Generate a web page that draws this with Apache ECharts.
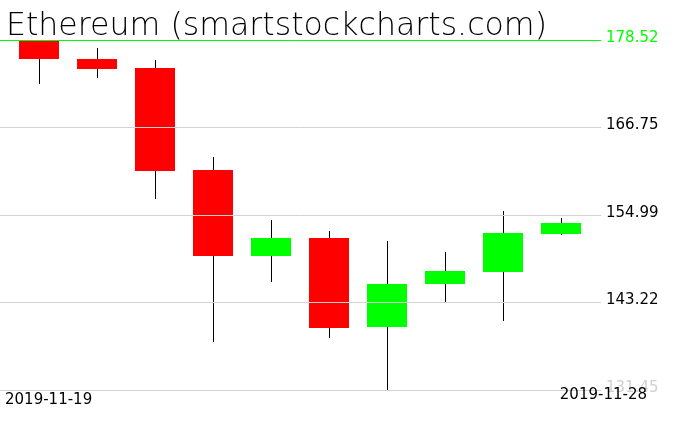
<!DOCTYPE html>
<html>
<head>
<meta charset="utf-8">
<script src="https://cdn.jsdelivr.net/npm/echarts@6/dist/echarts.min.js"></script>
<style>
html,body{margin:0;padding:0;background:#fff;}
#c{width:676px;height:431px;}
</style>
</head>
<body>
<div id="c"></div>
<script>
var titleText = 'Ethereum (smartstockcharts.com)';
var categories = ['2019-11-19','2019-11-20','2019-11-21','2019-11-22','2019-11-23','2019-11-24','2019-11-25','2019-11-26','2019-11-27','2019-11-28'];
var openVals  = [178.52, 175.90, 174.75, 161.04, 149.47, 151.89, 139.92, 145.75, 147.32, 152.43];
var closeVals = [175.90, 174.62, 160.94, 149.47, 151.89, 139.83, 145.70, 147.45, 152.56, 153.91];
var lowVals   = [172.56, 173.45, 157.20, 137.90, 146.01, 138.48, 131.45, 143.28, 140.73, 152.30];
var highVals  = [178.52, 177.40, 175.83, 162.78, 154.31, 152.83, 151.49, 149.98, 155.52, 154.58];
var yTicks = [131.45, 143.22, 154.99, 166.75, 178.52];
var yMin = 131.45, yMax = 178.52;

var candleData = categories.map(function(c, i){
  return [i, openVals[i], closeVals[i], lowVals[i], highVals[i]];
});

var chart = echarts.init(document.getElementById('c'), null, {renderer:'canvas'});

var lineData = yTicks.map(function(v, i){
  var isTop = i === yTicks.length - 1;
  var isBottom = i === 0;
  return {
    yAxis: v,
    name: v.toFixed(2),
    lineStyle: {color: isTop ? '#00ff00' : '#d3d3d3', width: 1, type: 'solid'},
    label: {color: isTop ? '#00ff00' : (isBottom ? '#d0d0d0' : '#000000')}
  };
});

chart.setOption({
  backgroundColor: '#ffffff',
  animation: false,
  grid: [
    {left: 10, width: 580, top: 40, height: 350},
    {left: 0, width: 601, top: 40, height: 350}
  ],
  xAxis: [
    {type: 'category', gridIndex: 0, data: categories, show: false, boundaryGap: true},
    {type: 'value', gridIndex: 1, min: 0, max: 1, show: false}
  ],
  yAxis: [
    {type: 'value', gridIndex: 0, min: yMin, max: yMax, show: false},
    {type: 'value', gridIndex: 1, min: yMin, max: yMax, show: false}
  ],
  graphic: [
    {type: 'text', left: 6, top: 11, z: 10,
     style: {text: titleText, font: '200 31.6px "DejaVu Sans"', fill: '#000'}},
    {type: 'text', x: 5, y: 400, z: 10,
     style: {text: categories[0], font: '15px "DejaVu Sans"', fill: '#000', verticalAlign: 'middle', align: 'left'}},
    {type: 'text', x: 647, y: 395, z: 10,
     style: {text: categories[categories.length - 1], font: '15px "DejaVu Sans"', fill: '#000', verticalAlign: 'middle', align: 'right'}}
  ],
  series: [
    {
      type: 'custom',
      xAxisIndex: 0, yAxisIndex: 0,
      z: 2,
      data: candleData,
      encode: {x: 0, y: [1, 2, 3, 4]},
      renderItem: function(params, api){
        var x = api.value(0), o = api.value(1), c = api.value(2), l = api.value(3), h = api.value(4);
        var pO = api.coord([x, o]), pC = api.coord([x, c]);
        var pL = api.coord([x, l]), pH = api.coord([x, h]);
        var band = api.size([1, 0])[0];
        var w = Math.round(band * 0.69);
        var cx = Math.round(pO[0]);
        var top = Math.round(Math.min(pO[1], pC[1]));
        var bot = Math.round(Math.max(pO[1], pC[1]));
        return {
          type: 'group',
          children: [
            {type: 'line', shape: {x1: cx + 0.5, y1: Math.round(pH[1]), x2: cx + 0.5, y2: Math.round(pL[1])},
             style: {stroke: '#000', lineWidth: 1}},
            {type: 'rect', shape: {x: cx - w / 2, y: top, width: w, height: Math.max(bot - top, 1)},
             style: {fill: c >= o ? '#00ff00' : '#ff0000'}}
          ]
        };
      }
    },
    {
      type: 'line',
      xAxisIndex: 1, yAxisIndex: 1,
      z: 5,
      data: [],
      symbol: 'none',
      markLine: {
        silent: true,
        symbol: ['none', 'none'],
        animation: false,
        label: {
          show: true,
          position: 'end',
          distance: 5,
          offset: [0, -2],
          formatter: function(p){ return p.name; },
          fontFamily: 'DejaVu Sans',
          fontSize: 15
        },
        data: lineData
      }
    }
  ]
});
</script>
</body>
</html>
